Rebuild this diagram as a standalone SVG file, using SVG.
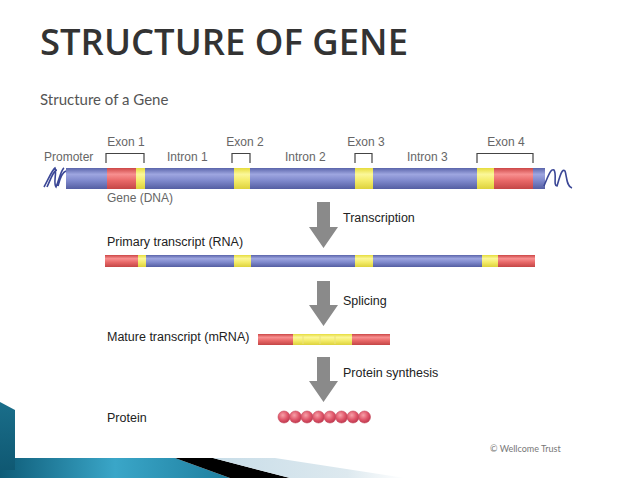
<svg xmlns="http://www.w3.org/2000/svg" width="638" height="478" viewBox="0 0 638 478">
<defs>
<linearGradient id="gBlue" x1="0" y1="0" x2="0" y2="1">
<stop offset="0" stop-color="#5a64aa"/><stop offset="0.3" stop-color="#9ea6e0"/><stop offset="0.6" stop-color="#7f89cc"/><stop offset="1" stop-color="#545ea2"/>
</linearGradient>
<linearGradient id="gRed" x1="0" y1="0" x2="0" y2="1">
<stop offset="0" stop-color="#cc4646"/><stop offset="0.3" stop-color="#f89090"/><stop offset="0.6" stop-color="#e86868"/><stop offset="1" stop-color="#c44646"/>
</linearGradient>
<linearGradient id="gYel" x1="0" y1="0" x2="0" y2="1">
<stop offset="0" stop-color="#e6dc3c"/><stop offset="0.3" stop-color="#fbf79a"/><stop offset="0.6" stop-color="#f4ec6a"/><stop offset="1" stop-color="#ddd23c"/>
</linearGradient>
<radialGradient id="gBead" cx="0.4" cy="0.35" r="0.65">
<stop offset="0" stop-color="#f7a0a8"/><stop offset="0.6" stop-color="#e0566a"/><stop offset="1" stop-color="#c03a50"/>
</radialGradient>
<linearGradient id="gTeal" x1="0" y1="0" x2="1" y2="0">
<stop offset="0" stop-color="#0e5c78"/><stop offset="0.5" stop-color="#3aa6c8"/><stop offset="1" stop-color="#1e7e9e"/>
</linearGradient>
<linearGradient id="gTealV" x1="0" y1="0" x2="0" y2="1">
<stop offset="0" stop-color="#1a6e8a"/><stop offset="1" stop-color="#0e5670"/>
</linearGradient>
<linearGradient id="gPale" x1="0" y1="0" x2="1" y2="0">
<stop offset="0" stop-color="#c8dde8"/><stop offset="0.7" stop-color="#dde9ef"/><stop offset="1" stop-color="#ffffff"/>
</linearGradient>
</defs>
<style>
.lbl{font-family:"Liberation Sans",Arial,sans-serif;font-size:12px;fill:#666}
.lbl2{font-family:"Liberation Sans",Arial,sans-serif;font-size:12.5px;fill:#222}
.brk{fill:none;stroke:#444;stroke-width:1.2}
.arrow{fill:#8a8a8a}
.sq{fill:none;stroke:#3b4796;stroke-width:1.6}
</style>
<rect width="638" height="478" fill="#ffffff"/>

<g id="decoration">
<polygon points="0,402 15,410 15,478 0,478" fill="url(#gTealV)"/>
<polygon points="15,458 175,458 230,478 0,478 0,470 15,470" fill="url(#gTeal)"/>
<polygon points="175,458 213,458 290,478 230,478" fill="#000000"/>
<polygon points="213,458 275,458 405,478 290,478" fill="url(#gPale)"/>
</g>

<g id="title">
<text x="40" y="55" font-family="'Open Sans',sans-serif" font-size="36" font-weight="600" fill="#333333" textLength="368" lengthAdjust="spacingAndGlyphs">STRUCTURE OF GENE</text>
<text x="40" y="105" font-family="Lato,sans-serif" font-size="15" fill="#555555">Structure of a Gene</text>
</g>

<g id="dna">
<rect x="66" y="168" width="479" height="21" fill="url(#gBlue)"/>
<rect x="107" y="168" width="29" height="21" fill="url(#gRed)"/>
<rect x="136" y="168" width="9" height="21" fill="url(#gYel)"/>
<rect x="234" y="168" width="16" height="21" fill="url(#gYel)"/>
<rect x="355" y="168" width="18" height="21" fill="url(#gYel)"/>
<rect x="477" y="168" width="17" height="21" fill="url(#gYel)"/>
<rect x="494" y="168" width="39" height="21" fill="url(#gRed)"/>
<path class="sq" d="M44,187 C48,180 52,170 55,168 C57,172 53,184 56,187 C59,180 61,170 64,168 M47,187 C51,178 54,170 57,170 M58,186 C60,178 63,172 66,171"/>
<path class="sq" d="M544,186 C548,176 551,168 554,170 C557,174 553,186 557,186 C560,176 562,168 565,171 C567,176 566,186 572,188"/>
<path class="brk" d="M106,163 V153.5 H144 V163"/>
<path class="brk" d="M232,163 V153.5 H250 V163"/>
<path class="brk" d="M355,163 V153.5 H372 V163"/>
<path class="brk" d="M477,163 V153.5 H533 V163"/>
<text class="lbl" x="126" y="146" text-anchor="middle">Exon 1</text>
<text class="lbl" x="245" y="146" text-anchor="middle">Exon 2</text>
<text class="lbl" x="366" y="146" text-anchor="middle">Exon 3</text>
<text class="lbl" x="506" y="146" text-anchor="middle">Exon 4</text>
<text class="lbl" x="44" y="161">Promoter</text>
<text class="lbl" x="167" y="161">Intron 1</text>
<text class="lbl" x="285" y="161">Intron 2</text>
<text class="lbl" x="407" y="161">Intron 3</text>
<text class="lbl" x="107" y="202">Gene (DNA)</text>
</g>

<g id="rna">
<text class="lbl2" x="107" y="246">Primary transcript (RNA)</text>
<rect x="105" y="255" width="430" height="12" fill="url(#gBlue)"/>
<rect x="105" y="255" width="33" height="12" fill="url(#gRed)"/>
<rect x="138" y="255" width="8" height="12" fill="url(#gYel)"/>
<rect x="234" y="255" width="17" height="12" fill="url(#gYel)"/>
<rect x="355" y="255" width="18" height="12" fill="url(#gYel)"/>
<rect x="482" y="255" width="16" height="12" fill="url(#gYel)"/>
<rect x="498" y="255" width="37" height="12" fill="url(#gRed)"/>
</g>

<g id="mrna">
<text class="lbl2" x="107" y="341">Mature transcript (mRNA)</text>
<rect x="258" y="334" width="132" height="11" fill="url(#gRed)"/>
<rect x="293" y="334" width="59" height="11" fill="url(#gYel)"/>
<path d="M303,335 V344 M320,335 V344 M335,335 V344" stroke="#ece27a" stroke-width="1"/>
</g>

<g id="protein">
<text class="lbl2" x="107" y="422">Protein</text>
<g fill="url(#gBead)" stroke="#c44a5c" stroke-width="0.6">
<circle cx="284" cy="417" r="6"/><circle cx="295.5" cy="417" r="6"/><circle cx="307" cy="417" r="6"/><circle cx="318.5" cy="417" r="6"/>
<circle cx="330" cy="417" r="6"/><circle cx="341.5" cy="417" r="6"/><circle cx="353" cy="417" r="6"/><circle cx="364.5" cy="417" r="6"/>
</g>
</g>

<g id="connectors">
<polygon class="arrow" points="317,202 330,202 330,227 338,227 323.5,248 309,227 317,227"/>
<polygon class="arrow" points="317,281 330,281 330,305 338,305 323.5,326 309,305 317,305"/>
<polygon class="arrow" points="317,357 330,357 330,381 338,381 323.5,402 309,381 317,381"/>
<text class="lbl2" x="343" y="222">Transcription</text>
<text class="lbl2" x="343" y="305">Splicing</text>
<text class="lbl2" x="343" y="377">Protein synthesis</text>
</g>

<text x="490" y="452" font-family="Lato,'Liberation Sans',sans-serif" font-size="9" fill="#777">© Wellcome Trust</text>
</svg>
